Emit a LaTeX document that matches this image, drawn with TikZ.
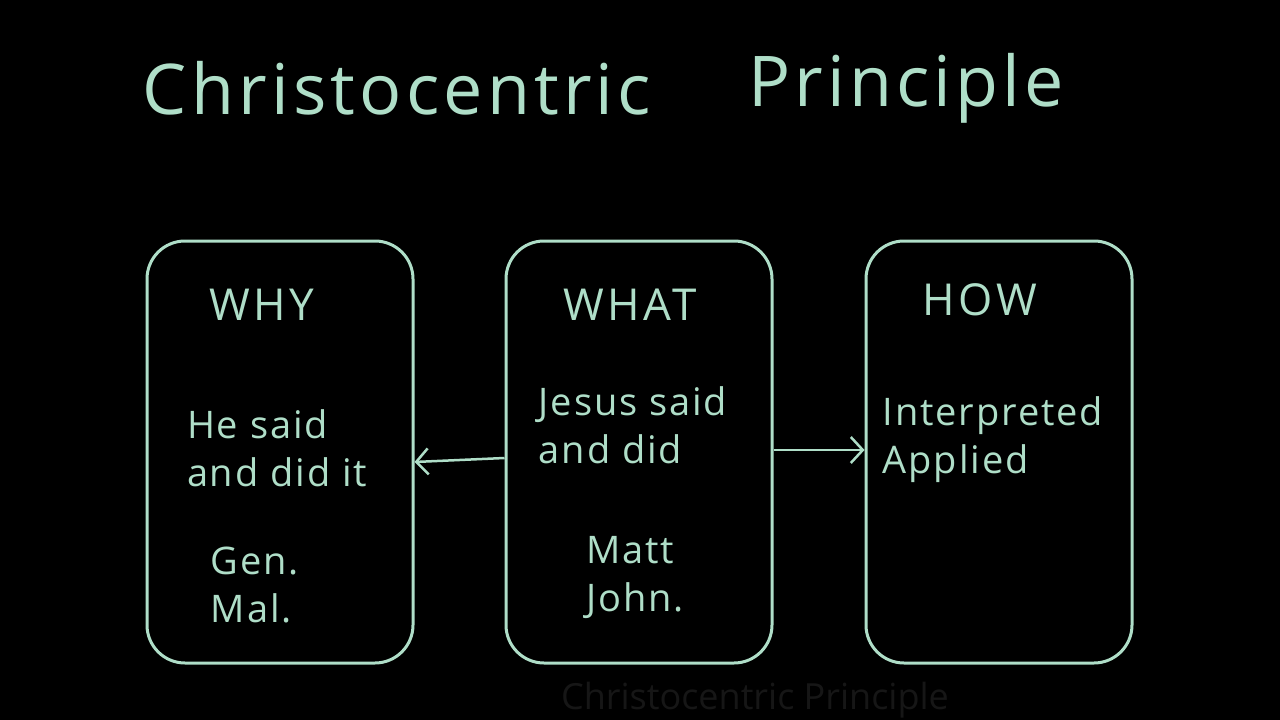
\documentclass[tikz,border=0pt]{standalone}
\usepackage{fontspec}
\setmainfont{Open Sans}
\usetikzlibrary{arrows.meta}
\definecolor{mint}{RGB}{175,222,200}
\definecolor{ghostc}{RGB}{22,22,22}
\begin{document}
\begin{tikzpicture}[x=1pt,y=-1pt,
  box/.style={draw=mint,line width=3pt,rounded corners=38pt,minimum width=266pt,minimum height=422pt,inner sep=0pt},
  hd/.style={text=mint,font=\fontsize{44}{48}\selectfont\addfontfeatures{LetterSpace=8}},
  tx/.style={text=mint,font=\fontsize{38}{48}\selectfont\addfontfeatures{LetterSpace=5},align=left},
  arr/.style={draw=mint,line width=2.5pt,-{Straight Barb[length=12pt,width=26pt]}}]
\fill[black] (0,0) rectangle (1280,720);
\useasboundingbox (0,0) rectangle (1280,720);
\node[text=mint,font=\fontsize{70}{74}\selectfont\addfontfeatures{LetterSpace=6}] (t1) at (397,88) {Christocentric};
\node[text=mint,font=\fontsize{70}{74}\selectfont\addfontfeatures{LetterSpace=6}] (t2) at (906,88) {Principle};
\node[text=ghostc,font=\fontsize{36}{40}\selectfont] (ghost) at (755,700) {Christocentric Principle};
\node[box] (bl) at (280,452) {};
\node[box] (bm) at (639,452) {};
\node[box] (br) at (999,452) {};
\node[hd] (h1) at (262,305) {WHY};
\node[hd] (h2) at (630,305) {WHAT};
\node[hd] (h3) at (980,300) {HOW};
\node[tx] (c1) at (277,448) {He said\\and did it};
\node[tx] (d1) at (255,585) {Gen.\\Mal.};
\node[tx] (c2) at (633,425) {Jesus said\\and did};
\node[tx] (d2) at (635,578) {Matt\\John.};
\node[tx] (c3) at (993,440) {Interpreted\\Applied};
\draw[arr] (bm.west |- 0,458) -- (bl.east |- 0,462);
\draw[arr] (bm.east |- 0,450) -- (br.west |- 0,450);
\end{tikzpicture}
\end{document}
